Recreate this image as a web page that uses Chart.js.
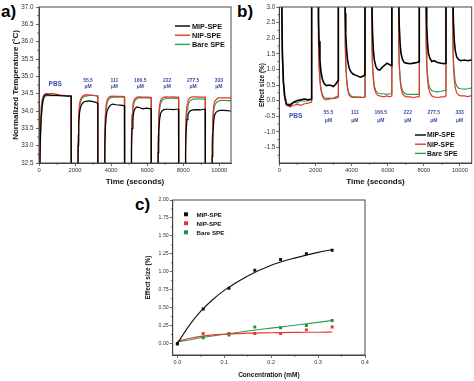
<!DOCTYPE html>
<html><head><meta charset="utf-8">
<script src="https://cdn.jsdelivr.net/npm/chart.js@4/dist/chart.umd.min.js"></script>
<style>
html,body{margin:0;padding:0;background:#fff;width:474px;height:381px;overflow:hidden}
body{position:relative;font-family:'Liberation Sans',Arial,sans-serif}
canvas{position:absolute}
.pl{position:absolute;font-weight:bold;font-size:17px;color:#000;line-height:1}
</style></head>
<body>
<div class="pl" style="left:1px;top:3px">a)</div>
<div class="pl" style="left:237px;top:3px">b)</div>
<div class="pl" style="left:135px;top:196px">c)</div>
<canvas id="ca" width="236" height="190" style="left:0;top:0"></canvas>
<canvas id="cb" width="237" height="190" style="left:237px;top:0"></canvas>
<canvas id="cc" width="270" height="191" style="left:100px;top:190px"></canvas>
<script>
// ---------- data ----------
const seriesNames = ['MIP-SPE', 'NIP-SPE', 'Bare SPE'];
const timeSec = [
 0,50,80,120,170,230,300,400,600,800,1000,1200,1400,1600,1780,1785,1795,
 2150,2170,2200,2250,2300,2380,2480,2600,2800,3000,3150,3260,3265,3275,
 3630,3650,3680,3730,3780,3860,3960,4080,4280,4480,4630,4740,4745,4755,
 5110,5130,5160,5210,5260,5340,5440,5560,5760,5960,6110,6220,6225,6235,
 6590,6610,6640,6690,6740,6820,6920,7040,7240,7440,7620,7740,7745,7755,
 8110,8130,8160,8210,8260,8340,8440,8560,8760,8960,9110,9220,9225,9235,
 9590,9610,9640,9690,9740,9820,9920,10040,10240,10440,10600,10700];
const tempMIP = [
 30,32.5,33.3,33.8,34.15,34.35,34.44,34.47,34.46,34.45,34.45,34.44,34.44,34.43,34.43,30,30,
 30,33.0,33.6,33.95,34.1,34.2,34.26,34.28,34.29,34.27,34.25,34.22,30,30,
 30,32.9,33.5,33.85,34.0,34.1,34.17,34.2,34.18,34.17,34.16,34.15,30,30,
 30,32.9,33.5,33.8,33.98,34.08,34.12,34.1,34.06,34.08,34.07,34.07,30,30,
 30,32.8,33.4,33.75,33.92,34.0,34.04,34.05,34.05,34.04,34.05,34.05,30,30,
 30,32.8,33.4,33.75,33.9,33.98,34.02,34.03,34.04,34.03,34.05,34.05,30,30,
 30,32.7,33.3,33.7,33.88,33.96,34.0,34.02,34.02,34.01,34.0,34.0];
const tempNIP = [
 30,32.8,33.6,34.1,34.3,34.42,34.48,34.5,34.5,34.5,34.48,34.46,34.45,34.44,34.44,30,30,
 30,33.3,33.9,34.2,34.33,34.41,34.45,34.47,34.46,34.45,34.44,34.43,30,30,
 30,33.3,33.9,34.2,34.32,34.39,34.42,34.43,34.42,34.42,34.42,34.41,30,30,
 30,33.3,33.9,34.18,34.3,34.37,34.4,34.41,34.4,34.4,34.4,34.39,30,30,
 30,33.3,33.9,34.18,34.3,34.37,34.4,34.41,34.4,34.41,34.4,34.4,30,30,
 30,33.3,33.9,34.18,34.3,34.37,34.4,34.41,34.41,34.4,34.4,34.4,30,30,
 30,33.3,33.85,34.15,34.27,34.33,34.37,34.38,34.38,34.38,34.38,34.38];
const tempBare = [
 30,32.3,33.1,33.7,34.05,34.3,34.4,34.44,34.45,34.44,34.44,34.44,34.43,34.43,34.43,34.43,30,
 30,33.1,33.75,34.1,34.26,34.36,34.41,34.43,34.45,34.45,34.44,34.43,34.43,30,
 30,33.1,33.75,34.1,34.24,34.33,34.38,34.4,34.4,34.4,34.4,34.4,34.4,30,
 30,33.1,33.75,34.08,34.22,34.31,34.36,34.38,34.38,34.38,34.37,34.37,34.37,30,
 30,33.1,33.75,34.05,34.2,34.3,34.34,34.36,34.37,34.37,34.36,34.36,34.36,30,
 30,33.1,33.7,34.03,34.18,34.27,34.32,34.34,34.35,34.35,34.34,34.34,34.34,30,
 30,33.1,33.7,34.0,34.15,34.23,34.28,34.3,34.31,34.3,34.3,34.3];
const effMIP = [
 5,5,5,4,1.6,0.6,0.15,-0.12,-0.15,-0.05,0.0,0.03,0.05,0.03,0.05,5,5,
 5,2.6,1.9,1.3,0.95,0.7,0.55,0.48,0.5,0.45,0.55,0.65,5,5,
 5,2.8,2.1,1.6,1.3,1.05,0.92,0.85,0.8,0.75,0.78,0.82,5,5,
 5,3.0,2.2,1.6,1.3,1.1,1.0,0.98,1.1,1.2,1.15,1.12,5,5,
 5,3.2,2.4,1.8,1.5,1.32,1.22,1.2,1.18,1.2,1.22,1.25,5,5,
 5,3.2,2.4,1.8,1.5,1.35,1.25,1.28,1.22,1.2,1.18,1.2,5,5,
 5,3.3,2.5,1.9,1.6,1.4,1.32,1.28,1.3,1.28,1.3,1.28];
const effNIP = [
 5,5,5,3.5,1.3,0.5,0.05,-0.15,-0.2,-0.15,-0.12,-0.15,-0.1,-0.08,-0.05,5,5,
 5,1.8,1.1,0.6,0.35,0.15,0.05,0.02,0.05,0.08,0.12,0.15,5,5,
 5,1.8,1.1,0.6,0.35,0.18,0.12,0.1,0.1,0.12,0.1,0.12,5,5,
 5,1.8,1.1,0.65,0.4,0.25,0.17,0.15,0.12,0.15,0.12,0.15,5,5,
 5,1.8,1.1,0.65,0.4,0.22,0.15,0.12,0.12,0.1,0.12,0.13,5,5,
 5,1.8,1.1,0.65,0.4,0.25,0.15,0.12,0.1,0.12,0.12,0.15,5,5,
 5,1.8,1.1,0.65,0.4,0.25,0.18,0.15,0.15,0.13,0.15,0.15];
const effBare = [
 5,5,5,3.8,1.4,0.55,0.1,-0.12,-0.1,-0.05,-0.08,0.0,-0.02,0.0,0.02,0.02,5,
 5,1.9,1.2,0.7,0.4,0.2,0.1,0.07,0.08,0.06,0.08,0.1,0.1,5,
 5,1.9,1.2,0.7,0.42,0.24,0.15,0.12,0.12,0.1,0.1,0.12,0.12,5,
 5,1.9,1.2,0.75,0.47,0.32,0.25,0.22,0.22,0.2,0.22,0.22,0.22,5,
 5,1.9,1.2,0.75,0.48,0.32,0.24,0.2,0.2,0.2,0.2,0.2,0.2,5,
 5,1.9,1.25,0.8,0.55,0.4,0.32,0.3,0.28,0.3,0.32,0.33,0.33,5,
 5,1.9,1.3,0.85,0.6,0.47,0.4,0.38,0.37,0.38,0.4,0.4];
const injectLabels = ['PBS','55.5','111','166.5','222','277.5','333'];
const injectTimes = [900,2720,4180,5620,7110,8550,9980];

const concMM = [0,0.055,0.11,0.165,0.22,0.275,0.33];
const sizeMIP = [0.0,0.48,0.77,1.02,1.17,1.25,1.30];
const sizeNIP = [0.0,0.14,0.14,0.14,0.14,0.19,0.23];
const sizeBare = [-0.01,0.08,0.12,0.23,0.22,0.25,0.32];
const fitConc = [0,0.025,0.05,0.075,0.1,0.15,0.2,0.25,0.3,0.33];
const fitMIP = [0.0,0.25,0.45,0.61,0.74,0.94,1.09,1.19,1.27,1.31];
const fitNIP = [0.03,0.07,0.1,0.12,0.13,0.145,0.15,0.155,0.158,0.16];
const fitBare = [0.02,0.05,0.08,0.105,0.13,0.175,0.215,0.255,0.295,0.32];

const timeTicks = [0,2000,4000,6000,8000,10000];
const tempTicks = [32.5,33.0,33.5,34.0,34.5,35.0,35.5,36.0,36.5,37.0];
const effTicks = [-1.5,-1.0,-0.5,0.0,0.5,1.0,1.5,2.0,2.5,3.0];
const concTicks = [0,0.1,0.2,0.3,0.4];
const sizeTicks = [0,0.25,0.5,0.75,1.0,1.25,1.5,1.75,2.0];

// ---------- style ----------
const FONT = "'Liberation Sans', Arial, sans-serif";
Chart.defaults.font.family = FONT;
const C_BLACK = '#000000', C_RED = '#e8352e', C_GREEN = '#2f9e55', C_BLUE = '#3b4ca6', C_AX = '#444';

const xy = (xs, ys) => xs.map((x, i) => ({x, y: ys[i]}));

function axis(opts) {
  const {min, max, ticks, dec, size, title, titleSize, titlePad, thick, tickPad, horizontal} = opts;
  return {
    type: 'linear', min, max,
    afterBuildTicks: s => { s.ticks = ticks.map(v => ({value: v})); },
    ticks: {font: {size}, color: '#333', padding: tickPad, maxRotation: 0, autoSkip: false,
            callback: v => Number(v).toFixed(dec)},
    grid: {display: true, drawOnChartArea: false, drawTicks: true, tickLength: 3, color: C_AX, lineWidth: 0.8},
    border: {display: true, color: C_AX, width: 1},
    title: {display: true, text: title, color: '#111', font: {size: titleSize, weight: 'bold'}, padding: titlePad},
    afterFit: s => {
      if (horizontal) { s.height = thick; } else { s.width = thick; }
      s.paddingLeft = 0; s.paddingRight = 0; s.paddingTop = 0; s.paddingBottom = 0;
    }
  };
}

function decor(cfg) {
  return {
    id: 'decor' + cfg.key,
    afterDraw(chart) {
      const {ctx, chartArea: a, scales: {x, y}} = chart;
      ctx.save();
      ctx.strokeStyle = C_AX; ctx.lineWidth = 1;
      ctx.strokeRect(a.left, a.top, a.right - a.left, a.bottom - a.top);
      ctx.lineWidth = 0.8;
      ctx.beginPath();
      for (let v = cfg.xMinor[0]; v <= x.max + 1e-9; v += cfg.xMinor[1]) {
        if (v < x.min) continue;
        const px = x.getPixelForValue(v);
        ctx.moveTo(px, a.bottom); ctx.lineTo(px, a.bottom + 1.8);
      }
      for (let v = cfg.yMinor[0]; v <= y.max + 1e-9; v += cfg.yMinor[1]) {
        if (v < y.min) continue;
        const py = y.getPixelForValue(v);
        ctx.moveTo(a.left, py); ctx.lineTo(a.left - 1.8, py);
      }
      ctx.stroke();
      // legend
      const L = cfg.legend;
      ctx.textBaseline = 'middle'; ctx.textAlign = 'left';
      ctx.font = 'bold ' + L.size + 'px ' + FONT;
      L.colors.forEach((c, i) => {
        const yy = L.y + i * L.dy;
        if (L.square) {
          ctx.fillStyle = c; ctx.fillRect(L.x - 2, yy - 2, 4, 4);
        } else {
          ctx.strokeStyle = c; ctx.lineWidth = 1.4;
          ctx.beginPath(); ctx.moveTo(L.x, yy); ctx.lineTo(L.x + L.len, yy); ctx.stroke();
        }
        ctx.fillStyle = '#111';
        ctx.fillText(seriesNames[i], L.tx, yy + 0.5);
      });
      // injection labels
      if (cfg.inj) {
        ctx.fillStyle = C_BLUE; ctx.textAlign = 'center';
        injectLabels.forEach((lab, i) => {
          const px = x.getPixelForValue(injectTimes[i]);
          if (i === 0) {
            ctx.font = 'bold 6.5px ' + FONT;
            ctx.fillText(lab, px, y.getPixelForValue(cfg.inj[0]));
          } else {
            ctx.font = 'bold 5px ' + FONT;
            ctx.fillText(lab, px, y.getPixelForValue(cfg.inj[1]));
            ctx.fillText('\u03bcM', px, y.getPixelForValue(cfg.inj[2]));
          }
        });
      }
      ctx.restore();
    }
  };
}

const lineDs = (label, data, color, w) => ({label, data, borderColor: color, backgroundColor: color,
  borderWidth: w, pointRadius: 0, tension: 0, fill: false});

// ---------- panel a ----------
new Chart(document.getElementById('ca'), {
  type: 'line',
  data: {datasets: [
    lineDs('MIP-SPE', xy(timeSec, tempMIP), C_BLACK, 1.2),
    lineDs('NIP-SPE', xy(timeSec, tempNIP), C_RED, 1.2),
    lineDs('Bare SPE', xy(timeSec, tempBare), C_GREEN, 1.2)]},
  options: {
    responsive: false, animation: false, events: [],
    layout: {padding: {top: 7, right: 5, left: 0, bottom: 0}},
    plugins: {legend: {display: false}, tooltip: {enabled: false}},
    scales: {
      x: axis({min: 0, max: 10650, ticks: timeTicks, dec: 0, size: 5.8, title: 'Time (seconds)', titleSize: 8,
               titlePad: {top: 0, bottom: 3}, thick: 27, tickPad: 0.5, horizontal: true}),
      y: axis({min: 32.5, max: 37, ticks: tempTicks, dec: 1, size: 6.3, title: 'Normalized Temperature (\u00b0C)', titleSize: 8,
               titlePad: {top: 10.5, bottom: 0}, thick: 39, tickPad: 2.5, horizontal: false})
    }
  },
  plugins: [decor({key: 'a', xMinor: [1000, 2000], yMinor: [32.75, 0.5],
    legend: {x: 175, len: 15, tx: 192, y: 26, dy: 9.2, size: 7.3, colors: [C_BLACK, C_RED, C_GREEN]},
    inj: [34.77, 34.89, 34.69]})]
});

// ---------- panel b ----------
new Chart(document.getElementById('cb'), {
  type: 'line',
  data: {datasets: [
    lineDs('MIP-SPE', xy(timeSec, effMIP), C_BLACK, 1.6),
    lineDs('NIP-SPE', xy(timeSec, effNIP), C_RED, 1.2),
    lineDs('Bare SPE', xy(timeSec, effBare), C_GREEN, 1.2)]},
  options: {
    responsive: false, animation: false, events: [],
    layout: {padding: {top: 7, right: 2.3, left: 0, bottom: 0}},
    plugins: {legend: {display: false}, tooltip: {enabled: false}},
    scales: {
      x: axis({min: 0, max: 10650, ticks: timeTicks, dec: 0, size: 5.8, title: 'Time (seconds)', titleSize: 8,
               titlePad: {top: 0, bottom: 3}, thick: 27, tickPad: 0.5, horizontal: true}),
      y: axis({min: -2, max: 3, ticks: effTicks, dec: 1, size: 6.3, title: 'Effect size (%)', titleSize: 6.5,
               titlePad: {top: 21, bottom: 0}, thick: 42.3, tickPad: 1, horizontal: false})
    }
  },
  plugins: [decor({key: 'b', xMinor: [1000, 2000], yMinor: [-1.75, 0.5],
    legend: {x: 178, len: 11, tx: 190, y: 135, dy: 9.2, size: 6.8, colors: [C_BLACK, C_RED, C_GREEN]},
    inj: [-0.5, -0.4, -0.65]})]
});

// ---------- panel c ----------
const ptDs = (label, xs, ys, color) => ({label, data: xy(xs, ys), showLine: false, pointStyle: 'rect',
  pointRadius: 2.1, pointBorderWidth: 0, backgroundColor: color, borderColor: color, order: 0});
const fitDs = (label, xs, ys, color) => ({label, data: xy(xs, ys), borderColor: color, borderWidth: 1.1,
  pointRadius: 0, cubicInterpolationMode: 'monotone', fill: false, order: 1});
new Chart(document.getElementById('cc'), {
  type: 'line',
  data: {datasets: [
    ptDs('MIP-SPE', concMM, sizeMIP, '#111'),
    ptDs('NIP-SPE', concMM, sizeNIP, C_RED),
    ptDs('Bare SPE', concMM, sizeBare, '#1f8f4a'),
    fitDs('MIP fit', fitConc, fitMIP, '#111'),
    fitDs('NIP fit', fitConc, fitNIP, C_RED),
    fitDs('Bare fit', fitConc, fitBare, C_GREEN)]},
  options: {
    responsive: false, animation: false, events: [],
    layout: {padding: {top: 10, right: 5, left: 0, bottom: 0}},
    plugins: {legend: {display: false}, tooltip: {enabled: false}},
    scales: {
      x: axis({min: -0.01, max: 0.4, ticks: concTicks, dec: 1, size: 5.5, title: 'Concentration (mM)', titleSize: 6.5,
               titlePad: {top: 0, bottom: 2}, thick: 26, tickPad: 1, horizontal: true}),
      y: axis({min: -0.16, max: 2.0, ticks: sizeTicks, dec: 2, size: 5.2, title: 'Effect size (%)', titleSize: 6.5,
               titlePad: {top: 44.5, bottom: 0}, thick: 72.7, tickPad: 1, horizontal: false})
    }
  },
  plugins: [decor({key: 'c', xMinor: [0.05, 0.1], yMinor: [0.125, 0.25],
    legend: {x: 86, len: 0, tx: 96.5, y: 24.3, dy: 9, size: 6.2, square: true,
             colors: ['#111', C_RED, '#1f8f4a']}})]
});
</script>
</body></html>
